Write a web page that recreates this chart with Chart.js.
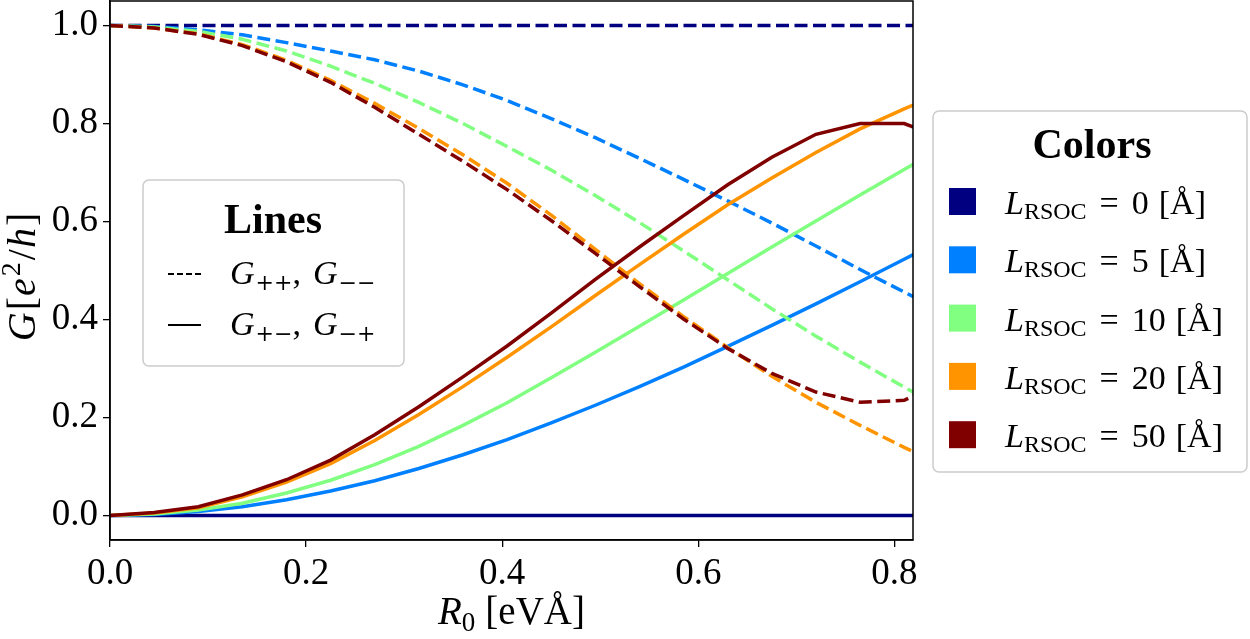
<!DOCTYPE html>
<html>
<head>
<meta charset="utf-8">
<script src="https://cdn.jsdelivr.net/npm/chart.js@4/dist/chart.umd.min.js"></script>
<style>
  body { margin: 0; background: #fff; }
</style>
</head>
<body>
<canvas id="myChart" width="1250" height="639"></canvas>
<script>
const ctx = document.getElementById('myChart').getContext('2d');
const SERIF = "'Liberation Serif', 'DejaVu Serif', serif";
const WIDE = "'DejaVu Serif', serif";

// R0 grid [eVÅ]; last point lies just past the axis end and gets clipped
const r0 = [0, 0.045, 0.09, 0.135, 0.18, 0.225, 0.27, 0.315, 0.36, 0.405, 0.45,
  0.495, 0.54, 0.585, 0.63, 0.675, 0.72, 0.765, 0.81, 0.855];

const lengths = ['0', '5', '10', '20', '50'];
const colors = ['#000080', '#0080ff', '#80ff80', '#ff9400', '#800000'];

// G++ , G-- (dashed)
const gpp0 = [1, 1, 1, 1, 1, 1, 1, 1, 1, 1, 1, 1, 1, 1, 1, 1, 1, 1, 1, 1];
const gpp5 = [1.0, 0.998, 0.991, 0.981, 0.965, 0.948, 0.930, 0.907, 0.879, 0.847, 0.810,
  0.771, 0.729, 0.686, 0.642, 0.597, 0.550, 0.502, 0.456, 0.410];
const gpp10 = [1.0, 0.997, 0.988, 0.972, 0.948, 0.917, 0.882, 0.843, 0.800, 0.753, 0.705,
  0.653, 0.598, 0.540, 0.481, 0.422, 0.366, 0.313, 0.262, 0.213];
const gpp20 = [1.0, 0.995, 0.983, 0.961, 0.929, 0.888, 0.841, 0.790, 0.736, 0.678, 0.613,
  0.543, 0.473, 0.406, 0.343, 0.284, 0.231, 0.184, 0.139, 0.097];
const gpp50 = [1.0, 0.995, 0.982, 0.959, 0.926, 0.884, 0.833, 0.778, 0.723, 0.665, 0.602,
  0.535, 0.467, 0.401, 0.341, 0.290, 0.252, 0.231, 0.235, 0.280];

// G+- , G-+ (solid)
const gpm0 = [0, 0, 0, 0, 0, 0, 0, 0, 0, 0, 0, 0, 0, 0, 0, 0, 0, 0, 0, 0];
const gpm5 = [0, 0.002, 0.008, 0.018, 0.032, 0.050, 0.071, 0.096, 0.124, 0.155, 0.189,
  0.225, 0.263, 0.303, 0.345, 0.388, 0.432, 0.477, 0.523, 0.568];
const gpm10 = [0, 0.003, 0.011, 0.025, 0.046, 0.072, 0.104, 0.141, 0.184, 0.230, 0.281,
  0.333, 0.386, 0.440, 0.494, 0.548, 0.601, 0.654, 0.706, 0.757];
const gpm20 = [0, 0.005, 0.016, 0.038, 0.068, 0.106, 0.153, 0.206, 0.263, 0.323, 0.385,
  0.449, 0.512, 0.574, 0.634, 0.689, 0.741, 0.789, 0.830, 0.868];
const gpm50 = [0, 0.006, 0.018, 0.042, 0.073, 0.113, 0.165, 0.222, 0.283, 0.346, 0.413,
  0.482, 0.548, 0.612, 0.675, 0.731, 0.778, 0.800, 0.800, 0.765];

const dashedSeries = [gpp0, gpp5, gpp10, gpp20, gpp50];
const solidSeries = [gpm0, gpm5, gpm10, gpm20, gpm50];

const xTicks = [0, 0.2, 0.4, 0.6, 0.8];
const yTicks = [0, 0.2, 0.4, 0.6, 0.8, 1.0];

function pts(vals) {
  return r0.map((x, i) => ({ x: x, y: vals[i] }));
}

const datasets = [];
lengths.forEach((L, i) => {
  datasets.push({
    data: pts(dashedSeries[i]),
    borderColor: colors[i],
    borderWidth: 3.5,
    borderDash: [13, 5.5],
    order: 20 - datasets.length,
  });
  datasets.push({
    data: pts(solidSeries[i]),
    borderColor: colors[i],
    borderWidth: 3.5,
    order: 20 - datasets.length,
  });
});

// draw a run of text pieces with mixed fonts: [text, font, dy, gapBefore]
function rich(c, parts, x, y, align) {
  let w = 0;
  parts.forEach(p => { c.font = p[1]; w += c.measureText(p[0]).width + (p[3] || 0); });
  let cx = align === 'center' ? x - w / 2 : x;
  parts.forEach(p => {
    c.font = p[1];
    cx += p[3] || 0;
    c.fillText(p[0], cx, y + (p[2] || 0));
    cx += c.measureText(p[0]).width;
  });
}

function legendBox(c, x, y, w, h) {
  c.save();
  c.beginPath();
  c.roundRect(x, y, w, h, 6);
  c.fillStyle = 'rgba(255,255,255,0.8)';
  c.fill();
  c.strokeStyle = '#cccccc';
  c.lineWidth = 1.5;
  c.stroke();
  c.restore();
}

const it = s => 'italic ' + s + 'px ' + SERIF;
const rm = s => s + 'px ' + SERIF;
const bf = s => 'bold ' + s + 'px ' + SERIF;
const sym = s => s + 'px ' + WIDE;

const decorations = {
  id: 'decorations',
  afterDatasetsDraw(chart) {
    const c = chart.ctx;
    const a = chart.chartArea;
    c.save();
    c.strokeStyle = '#000';
    c.lineWidth = 1.5;
    c.strokeRect(a.left, a.top, a.right - a.left, a.bottom - a.top);
    c.fillStyle = '#000';
    c.textBaseline = 'alphabetic';

    // axis titles
    rich(c, [['R', it(39)], ['0', rm(27), 7], ['[eVÅ]', rm(39), 0, 10]], (a.left + a.right) / 2, 624, 'center');
    c.save();
    c.translate(35, 277);
    c.rotate(-Math.PI / 2);
    rich(c, [['G', it(40)], ['[', rm(40), 0, 2], ['e', it(40), 0, 1], ['2', rm(28), -15, 2],
      ['/', rm(40), 0, 2], ['h', it(40), 0, 1], [']', rm(40), 0, 2]], 0, 0, 'center');
    c.restore();

    // "Lines" legend
    legendBox(c, 143, 180, 261, 186);
    c.font = bf(42);
    c.textAlign = 'center';
    c.fillText('Lines', 273, 233);
    c.textAlign = 'left';
    const lineRows = [
      { y: 274, dash: [6, 3], parts: [['G', it(34)], ['++', sym(22), 6, 1], [',', rm(34)], ['G', it(34), 0, 12], ['−−', sym(22), 6, 1]] },
      { y: 325, dash: [], parts: [['G', it(34)], ['+−', sym(22), 6, 1], [',', rm(34)], ['G', it(34), 0, 12], ['−+', sym(22), 6, 1]] },
    ];
    lineRows.forEach(r => {
      c.beginPath();
      c.setLineDash(r.dash);
      c.lineWidth = 2;
      c.moveTo(168, r.y);
      c.lineTo(201, r.y);
      c.stroke();
      c.setLineDash([]);
      rich(c, r.parts, 230, r.y + 10);
    });

    // "Colors" legend
    legendBox(c, 933, 111, 314, 361);
    c.font = bf(42);
    c.textAlign = 'center';
    c.fillText('Colors', 1092, 158);
    c.textAlign = 'left';
    lengths.forEach((L, i) => {
      const cy = 201 + i * 58.3;
      c.fillStyle = colors[i];
      c.fillRect(949, cy - 13, 27, 27);
      c.fillStyle = '#000';
      rich(c, [['L', it(34)], ['RSOC', rm(24), 5], ['=', rm(34), 0, 13], [L, rm(34), 0, 13], ['[Å]', rm(34), 0, 10]], 1005, cy + 13);
    });
    c.restore();
  }
};

const config = {
  type: 'line',
  data: { datasets: datasets },
  options: {
    responsive: false,
    animation: false,
    layout: { padding: { left: 0, right: 337, top: 1, bottom: 0 } },
    elements: { point: { radius: 0 }, line: { tension: 0, fill: false } },
    plugins: { legend: { display: false }, tooltip: { enabled: false } },
    scales: {
      x: {
        type: 'linear',
        min: 0,
        max: 0.819,
        afterBuildTicks: (axis) => { axis.ticks = xTicks.map(v => ({ value: v })); },
        afterFit: (s) => { s.height = 99; s.paddingLeft = 0; s.paddingRight = 0; },
        ticks: {
          autoSkip: false, maxRotation: 0, color: '#000', padding: 5,
          font: { family: SERIF, size: 37 },
          callback: (v) => v.toFixed(1),
        },
        grid: { drawOnChartArea: false, tickLength: 7, color: '#000', lineWidth: 1.3 },
        border: { color: '#000', width: 1.5 },
      },
      y: {
        min: -0.05,
        max: 1.05,
        afterBuildTicks: (axis) => { axis.ticks = yTicks.map(v => ({ value: v })); },
        afterFit: (s) => { s.width = 110; s.paddingTop = 0; s.paddingBottom = 0; },
        ticks: {
          autoSkip: false, color: '#000', padding: 5,
          font: { family: SERIF, size: 37 },
          callback: (v) => v.toFixed(1),
        },
        grid: { drawOnChartArea: false, tickLength: 7, color: '#000', lineWidth: 1.3 },
        border: { color: '#000', width: 1.5 },
      },
    },
  },
  plugins: [decorations],
};

const myChart = new Chart(ctx, config);
</script>
</body>
</html>
